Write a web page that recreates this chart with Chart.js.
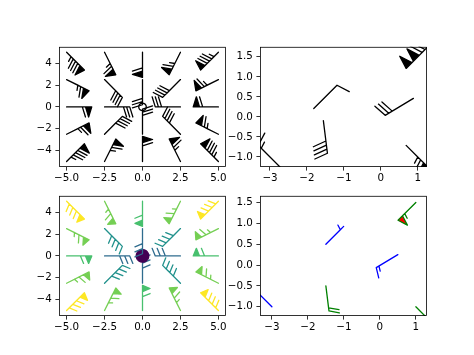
<!DOCTYPE html>
<html><head><meta charset="utf-8">
<script src="https://cdn.jsdelivr.net/npm/chart.js@4"></script>
<style>
html,body{margin:0;padding:0;background:#fff;}
#fig{position:relative;width:474px;height:355px;overflow:hidden;background:#fff;}
</style></head><body><div id="fig"></div>
<script>
// ---------- data ----------
const gridX = [-5, -2.5, 0, 2.5, 5];
const gridY = [-5, -2.5, 0, 2.5, 5];
const gridU = [-60, -30, 0, 30, 60];   // U for each column (x)
const gridV = [-60, -30, 0, 30, 60];   // V for each row (y)

const ptX = [-1.5, 1, -3, 1, 0.5, -1.5];
const ptY = [0.5, -1, -1, 1.5, 0.25, -0.5];
const ptU = [-6, -46, 11, 80, 25, -5];
const ptV = [-6, 46, -11, 80, 15, 40];

const gridXTicks = [-5, -2.5, 0, 2.5, 5];
const gridXLabels = ['\u22125.0', '\u22122.5', '0.0', '2.5', '5.0'];
const gridYTicks = [-4, -2, 0, 2, 4];
const gridYLabels = ['\u22124', '\u22122', '0', '2', '4'];
const ptXTicks = [-3, -2, -1, 0, 1];
const ptXLabels = ['\u22123', '\u22122', '\u22121', '0', '1'];
const ptYTicks = [-1, -0.5, 0, 0.5, 1, 1.5];
const ptYLabels = ['\u22121.0', '\u22120.5', '0.0', '0.5', '1.0', '1.5'];

// ---------- helpers ----------
const VIR = ['#440154','#482475','#414487','#355f8d','#2a788e','#21918c','#22a884','#44bf70','#7ad151','#bddf26','#fde725'];
function hex2rgb(h){return [parseInt(h.slice(1,3),16),parseInt(h.slice(3,5),16),parseInt(h.slice(5,7),16)];}
function viridis(t){
  t=Math.max(0,Math.min(1,t));
  const p=t*(VIR.length-1), i=Math.min(VIR.length-2,Math.floor(p)), f=p-i;
  const a=hex2rgb(VIR[i]), b=hex2rgb(VIR[i+1]);
  return 'rgb('+a.map((v,k)=>Math.round(v+(b[k]-v)*f)).join(',')+')';
}
const DPI = 74;
function findTails(mag, inc, rounding){
  let m = rounding ? inc.half*Math.round(mag/inc.half) : mag;
  const nflags=Math.floor(m/inc.flag); m-=nflags*inc.flag;
  const nbarbs=Math.floor(m/inc.full); m-=nbarbs*inc.full;
  const half = m >= inc.half;
  return {nflags, nbarbs, half, empty: !(half||nflags>0||nbarbs>0)};
}
function barbVerts(t, L, pivot, sizes, flip){
  const spacing=L*(sizes.spacing!==undefined?sizes.spacing:0.125);
  const fh=L*(sizes.height!==undefined?sizes.height:0.4);
  const fw=L*(sizes.width!==undefined?sizes.width:0.25);
  const ex=0, ey = pivot==='middle' ? -L/2 : 0;
  const v=[[ex,ey]];
  let off=L;
  const bh = flip ? -fh : fh;
  for(let i=0;i<t.nflags;i++){
    if(off!==L) off+=spacing/2;
    v.push([ex,ey+off],[ex+bh,ey-fw/2+off],[ex,ey-fw+off]);
    off-=fw+spacing;
  }
  for(let i=0;i<t.nbarbs;i++){
    v.push([ex,ey+off],[ex+bh,ey+off+fw/2],[ex,ey+off]);
    off-=spacing;
  }
  if(t.half){
    if(off===L){v.push([ex,ey+off]); off-=1.5*spacing;}
    v.push([ex,ey+off],[ex+bh/2,ey+off+fw/4],[ex,ey+off]);
  }
  return v;
}

function makeBarbPlugin(spec){
  return {
    id:'barbs',
    afterDatasetsDraw(chart){
      const ctx=chart.ctx, a=chart.chartArea, sx=chart.scales.x, sy=chart.scales.y;
      const L = spec.length*spec.length/2*DPI/72;
      const sizes = spec.sizes||{};
      ctx.save();
      ctx.beginPath(); ctx.rect(a.left,a.top,a.right-a.left,a.bottom-a.top); ctx.clip();
      ctx.lineWidth = 1.3; ctx.lineJoin='round'; ctx.lineCap='butt';
      spec.items.forEach((it,k)=>{
        const px=sx.getPixelForValue(it.x), py=sy.getPixelForValue(it.y);
        const mag=Math.hypot(it.u,it.v);
        const t=findTails(mag, spec.inc, spec.rounding);
        const face = spec.face(it,k), edge = spec.edge(it,k);
        ctx.fillStyle=face; ctx.strokeStyle=edge;
        ctx.beginPath();
        if(t.empty){
          const r=L*(sizes.emptybarb!==undefined?sizes.emptybarb:0.15);
          for(let i=0;i<20;i++){
            const ang=2*Math.PI*i/20+Math.PI/2;
            const X=px+r*Math.cos(ang), Y=py-r*Math.sin(ang);
            if(i===0) ctx.moveTo(X,Y); else ctx.lineTo(X,Y);
          }
          ctx.closePath();
          if(spec.fillEmpty) ctx.fill();
          ctx.stroke();
          return;
        }
        const vs=barbVerts(t,L,spec.pivot,sizes,spec.flip);
        const phi=Math.atan2(it.v,it.u), s=Math.sin(phi), c=Math.cos(phi);
        vs.forEach((p,i)=>{
          const dx=-p[0]*s-p[1]*c, dy=p[0]*c-p[1]*s;
          const X=px+dx, Y=py-dy;
          if(i===0) ctx.moveTo(X,Y); else ctx.lineTo(X,Y);
        });
        ctx.closePath();
        ctx.fill(); ctx.stroke();
      });
      ctx.restore();
    },
    afterDraw(chart){
      const ctx=chart.ctx, a=chart.chartArea;
      ctx.save(); ctx.strokeStyle='#000'; ctx.lineWidth=0.8;
      ctx.strokeRect(a.left+0.5,a.top+0.5,a.right-a.left-1,a.bottom-a.top-1);
      ctx.restore();
    }
  };
}

const PAD_L=45, PAD_B=25, PAD_T=6, PAD_R=6;
const FONT={family:'DejaVu Sans', size:10.3};
function makePanel(box, xr, yr, xt, xl, yt, yl, spec){
  const c=document.createElement('canvas');
  const W=box.w+PAD_L+PAD_R, H=box.h+PAD_T+PAD_B;
  c.width=W; c.height=H;
  Object.assign(c.style,{position:'absolute',left:(box.x-PAD_L)+'px',top:(box.y-PAD_T)+'px',width:W+'px',height:H+'px'});
  document.getElementById('fig').appendChild(c);
  const gridCfg={display:true,drawOnChartArea:false,drawTicks:true,tickLength:3.6,tickWidth:0.8,tickColor:'#000'};
  new Chart(c,{
    type:'scatter',
    data:{datasets:[{data:spec.items.map(p=>({x:p.x,y:p.y})),pointRadius:0,pointHoverRadius:0}]},
    options:{
      responsive:false, animation:false, devicePixelRatio:1, events:[],
      layout:{padding:{left:0,right:PAD_R,top:PAD_T,bottom:0}},
      plugins:{legend:{display:false},tooltip:{enabled:false}},
      scales:{
        x:{type:'linear',min:xr[0],max:xr[1],
           afterFit(s){s.height=PAD_B;},
           afterBuildTicks(s){s.ticks=xt.map(v=>({value:v}));},
           ticks:{autoSkip:false,maxRotation:0,minRotation:0,padding:2,color:'#000',font:FONT,callback:(v,i)=>xl[i]},
           grid:gridCfg,border:{display:false}},
        y:{type:'linear',min:yr[0],max:yr[1],
           afterFit(s){s.width=PAD_L;},
           afterBuildTicks(s){s.ticks=yt.map(v=>({value:v}));},
           ticks:{autoSkip:false,padding:3.6,color:'#000',font:FONT,callback:(v,i)=>yl[i]},
           grid:gridCfg,border:{display:false}}
      }
    },
    plugins:[makeBarbPlugin(spec)]
  });
}

// build items
const gridItems=[];
gridY.forEach((y,j)=>gridX.forEach((x,i)=>gridItems.push({x,y,u:gridU[i],v:gridV[j]})));
const ptItems=ptX.map((x,k)=>({x,y:ptY[k],u:ptU[k],v:ptV[k]}));
const maxMag=Math.max(...gridItems.map(p=>Math.hypot(p.u,p.v)));
const incDefault={half:5,full:10,flag:50};

makePanel({x:59,y:43,w:167,h:124},[-5.5,5.5],[-5.5,5.5],gridXTicks,gridXLabels,gridYTicks,gridYLabels,
  {items:gridItems,length:7,pivot:'tip',sizes:{},inc:incDefault,rounding:true,flip:false,fillEmpty:false,
   face:()=>'#000',edge:()=>'#000'});
makePanel({x:260,y:43,w:167,h:124},[-3.27,1.25],[-1.25,1.75],ptXTicks,ptXLabels,ptYTicks,ptYLabels,
  {items:ptItems,length:8,pivot:'middle',sizes:{},inc:incDefault,rounding:true,flip:false,fillEmpty:false,
   face:()=>'#000',edge:()=>'#000'});
makePanel({x:59,y:192,w:167,h:124},[-5.5,5.5],[-5.5,5.5],gridXTicks,gridXLabels,gridYTicks,gridYLabels,
  {items:gridItems,length:7,pivot:'tip',sizes:{emptybarb:0.25,spacing:0.2,height:0.3},inc:incDefault,rounding:false,flip:false,fillEmpty:true,
   face:p=>viridis(Math.hypot(p.u,p.v)/maxMag),edge:p=>viridis(Math.hypot(p.u,p.v)/maxMag)});
const barbColors=['#0000ff','#008000'];
makePanel({x:260,y:192,w:167,h:124},[-3.33,1.31],[-1.22,1.66],ptXTicks,ptXLabels,ptYTicks,ptYLabels,
  {items:ptItems,length:7,pivot:'tip',sizes:{},inc:{half:10,full:20,flag:100},rounding:true,flip:true,fillEmpty:false,
   face:()=>'#ff0000',edge:(p,k)=>barbColors[k%2]});
</script></body></html>
